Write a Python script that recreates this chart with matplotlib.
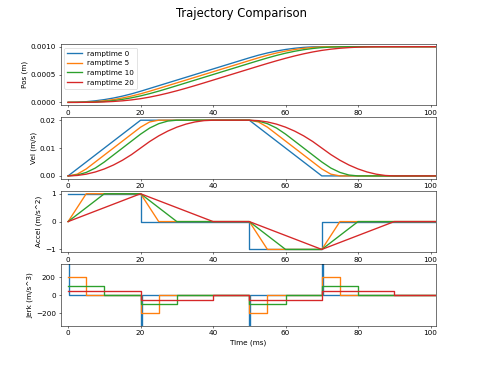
import numpy as np
import matplotlib
matplotlib.use("Agg")
import matplotlib.pyplot as plt

# ── Data ─────────────────────────────────────────────────────────────
LABELS = ["ramptime 0", "ramptime 5", "ramptime 10", "ramptime 20"]

# shared sample grid for position / velocity (ms)
T_GRID = [i * 2.5 for i in range(42)]

# position in micrometres
POS_UM = [
    [0, 3.1, 12.5, 28.1, 50, 78.1, 112.5, 153.1, 200, 250, 300, 350, 400, 450,
     500, 550, 600, 650, 700, 750, 800, 846.9, 887.5, 921.9, 950, 971.9, 987.5,
     996.9, 1000, 1000, 1000, 1000, 1000, 1000, 1000, 1000, 1000, 1000, 1000,
     1000, 1000, 1000],
    [0, 0.5, 4.2, 13.5, 29.2, 51.0, 79.2, 113.5, 154.2, 200.5, 250, 300, 350,
     400, 450, 500, 550, 600, 650, 700, 750, 799.5, 845.8, 886.5, 920.8, 949.0,
     970.8, 986.5, 995.8, 999.5, 1000, 1000, 1000, 1000, 1000, 1000, 1000, 1000,
     1000, 1000, 1000, 1000],
    [0, 0.3, 2.1, 7.0, 16.7, 32.3, 54.2, 82.3, 116.7, 157.0, 202.1, 250.3, 300,
     350, 400, 450, 500, 550, 600, 650, 700, 749.7, 797.9, 843.0, 883.3, 917.7,
     945.8, 967.7, 983.3, 993.0, 997.9, 999.7, 1000, 1000, 1000, 1000, 1000,
     1000, 1000, 1000, 1000, 1000],
    [0, 0.1, 1.0, 3.5, 8.3, 16.3, 28.1, 44.7, 66.7, 94.7, 128.1, 166.3, 208.3,
     253.5, 301.0, 350.1, 400, 450, 500, 550, 600, 649.9, 699.0, 746.5, 791.7,
     833.7, 871.9, 905.3, 933.3, 955.3, 971.9, 983.7, 991.7, 996.5, 999.0,
     999.9, 1000, 1000, 1000, 1000, 1000, 1000],
]

# velocity in mm/s
VEL_MMS = [
    [0, 2.5, 5, 7.5, 10, 12.5, 15, 17.5, 20, 20, 20, 20, 20, 20, 20, 20, 20, 20,
     20, 20, 20, 17.5, 15, 12.5, 10, 7.5, 5, 2.5, 0, 0, 0, 0, 0, 0, 0, 0, 0, 0,
     0, 0, 0, 0],
    [0, 0.625, 2.5, 5, 7.5, 10, 12.5, 15, 17.5, 19.375, 20, 20, 20, 20, 20, 20,
     20, 20, 20, 20, 20, 19.375, 17.5, 15, 12.5, 10, 7.5, 5, 2.5, 0.625, 0, 0,
     0, 0, 0, 0, 0, 0, 0, 0, 0, 0],
    [0, 0.3125, 1.25, 2.8125, 5, 7.5, 10, 12.5, 15, 17.1875, 18.75, 19.6875, 20,
     20, 20, 20, 20, 20, 20, 20, 20, 19.6875, 18.75, 17.1875, 15, 12.5, 10, 7.5,
     5, 2.8125, 1.25, 0.3125, 0, 0, 0, 0, 0, 0, 0, 0, 0, 0],
    [0, 0.156, 0.625, 1.406, 2.5, 3.906, 5.625, 7.656, 10, 12.344, 14.375,
     16.094, 17.5, 18.594, 19.375, 19.844, 20, 20, 20, 20, 20, 19.844, 19.375,
     18.594, 17.5, 16.094, 14.375, 12.344, 10, 7.656, 5.625, 3.906, 2.5, 1.406,
     0.625, 0.156, 0, 0, 0, 0, 0, 0],
]

# acceleration breakpoints (ms, m/s^2)
ACC_T = [
    [0, 20, 20, 50, 50, 70, 70, 102],
    [0, 5, 20, 25, 50, 55, 70, 75, 102],
    [0, 10, 20, 30, 50, 60, 70, 80, 102],
    [0, 20, 40, 50, 70, 90, 102],
]
ACC_V = [
    [1, 1, 0, 0, -1, -1, 0, 0],
    [0, 1, 1, 0, 0, -1, -1, 0, 0],
    [0, 1, 1, 0, 0, -1, -1, 0, 0],
    [0, 1, 0, 0, -1, 0, 0],
]

# jerk steps (ms, m/s^3), value holds until next time
JERK_T = [
    [0, 0.3, 20, 20.3, 50, 50.3, 70, 70.3, 102],
    [0, 5, 20, 25, 50, 55, 70, 75, 102],
    [0, 10, 20, 30, 50, 60, 70, 80, 102],
    [0, 20, 40, 50, 70, 90, 102],
]
JERK_V = [
    [4000, 0, -4000, 0, -4000, 0, 4000, 0, 0],
    [200, 0, -200, 0, -200, 0, 200, 0, 0],
    [100, 0, -100, 0, -100, 0, 100, 0, 0],
    [50, -50, 0, -50, 50, 0, 0],
]

COLORS = ["#1f77b4", "#ff7f0e", "#2ca02c", "#d62728"]
XLIM = (-2.1, 101.4)

plt.rcParams["lines.linewidth"] = 2.0
plt.rcParams["font.size"] = 10.8

fig = plt.figure(figsize=(10, 7.5625), dpi=48.4)
fig.suptitle("Trajectory Comparison", fontsize=17.3)

ax1 = fig.add_subplot(4, 1, 1)
ax2 = fig.add_subplot(4, 1, 2)
ax3 = fig.add_subplot(4, 1, 3)
ax4 = fig.add_subplot(4, 1, 4)

t = np.array(T_GRID)
for i in range(4):
    ax1.plot(t, np.array(POS_UM[i]) * 1e-6, color=COLORS[i], label=LABELS[i])
    ax2.plot(t, np.array(VEL_MMS[i]) * 1e-3, color=COLORS[i])
    ax3.plot(ACC_T[i], ACC_V[i], color=COLORS[i])
    ax4.step(JERK_T[i], JERK_V[i], where="post", color=COLORS[i])

ax1.set_ylabel("Pos (m)")
ax1.legend(loc="upper left")
ax2.set_ylabel("Vel (m/s)")
ax3.set_ylabel("Accel (m/s^2)")
ax4.set_ylabel("Jerk (m/s^3)")
ax4.set_xlabel("Time (ms)")
ax4.set_ylim(-342, 342)

for ax in (ax1, ax2, ax3, ax4):
    ax.set_xlim(*XLIM)

fig.savefig("out.png", dpi=48.4)
